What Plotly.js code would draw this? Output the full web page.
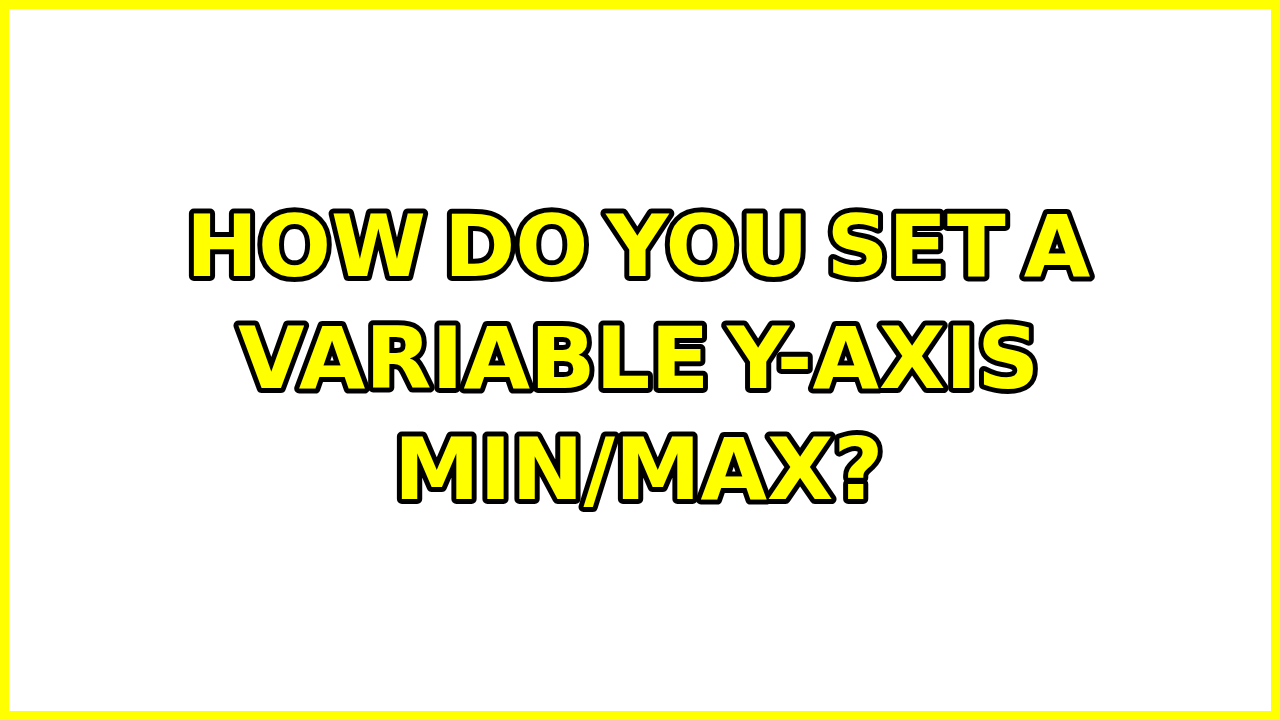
<!DOCTYPE html>
<html>
<head>
<meta charset="utf-8">
<script src="https://cdn.plot.ly/plotly-3.0.1.min.js"></script>
<style>
  html, body { margin: 0; padding: 0; background: #ffffff; }
  #chart { width: 1280px; height: 720px; }
  /* black outline around the yellow letters, tighter word gaps */
  .annotation-text {
    stroke: #000000;
    stroke-width: 10px;
    stroke-linejoin: round;
    paint-order: stroke fill;
    word-spacing: -12px;
  }
</style>
</head>
<body>
<div id="chart"></div>
<script>
// the three lines of the title card
const titleLines = ['HOW DO YOU SET A', 'VARIABLE Y-AXIS', 'MIN/MAX?'];

const firstLineY = 246;
const lineGap = 111.5;

const annotations = titleLines.map((line, i) => ({
  text: line,
  x: 638,
  y: firstLineY + i * lineGap,
  xref: 'x',
  yref: 'y',
  xanchor: 'center',
  yanchor: 'middle',
  showarrow: false,
  font: { family: 'DejaVu Sans', size: 86, color: '#ffff00', weight: 'bold' },
}));

const layout = {
  width: 1280,
  height: 720,
  paper_bgcolor: '#ffffff',
  plot_bgcolor: '#ffffff',
  margin: { l: 0, r: 0, t: 0, b: 0 },
  showlegend: false,
  xaxis: { range: [0, 1280], visible: false, fixedrange: true },
  yaxis: { range: [720, 0], visible: false, fixedrange: true },
  annotations: annotations,
  shapes: [{
    type: 'rect',
    xref: 'paper', yref: 'paper',
    x0: 0, x1: 1, y0: 0, y1: 1,
    line: { color: '#ffff00', width: 18 },
  }],
};

Plotly.newPlot('chart', [], layout, { displayModeBar: false, staticPlot: true });
</script>
</body>
</html>
